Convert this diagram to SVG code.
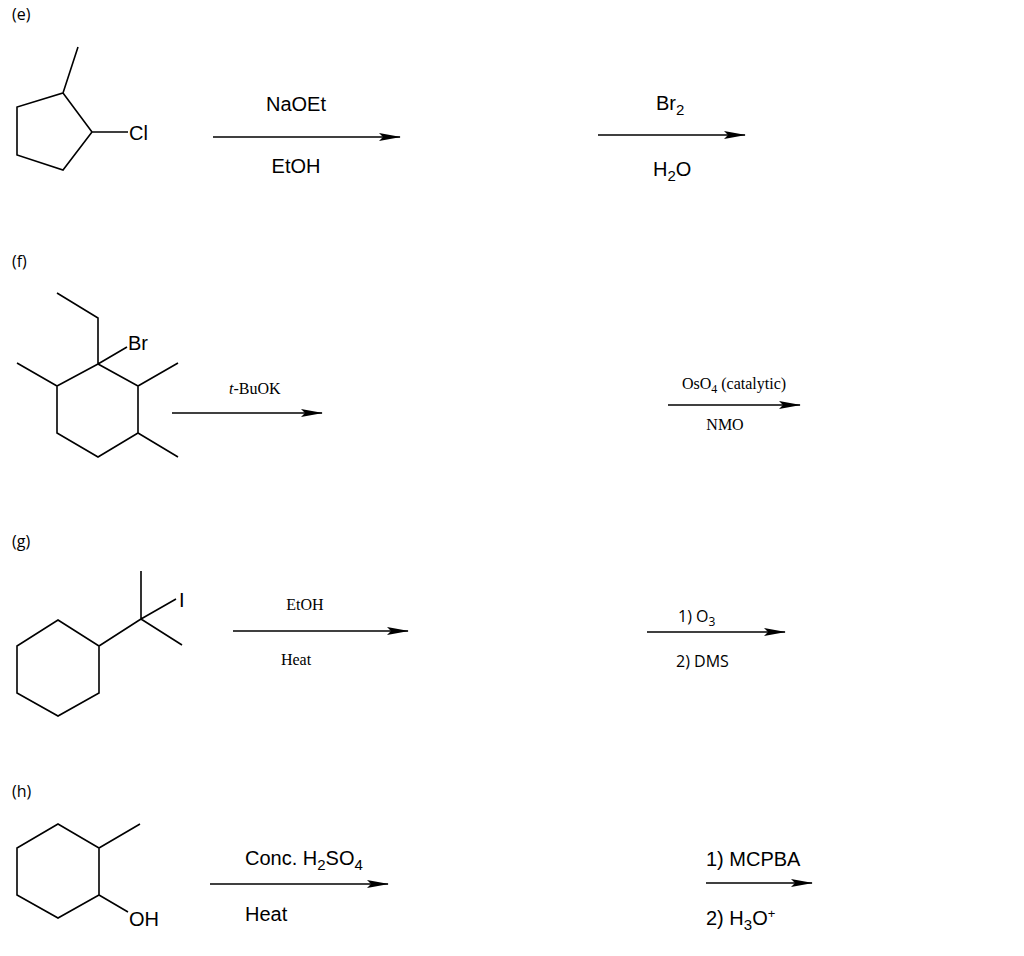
<svg xmlns="http://www.w3.org/2000/svg" width="1024" height="956" viewBox="0 0 1024 956">
<style>
.b{stroke:#000;stroke-width:1.6;fill:none;stroke-linejoin:miter}
.a{stroke:#000;stroke-width:1.6}
.t{font-family:"Liberation Sans",Arial,sans-serif;font-size:20px;fill:#000}
.s{font-family:"Liberation Serif","Times New Roman",serif;font-size:16px;fill:#000}
.l{font-family:"Open Sans",sans-serif;font-size:16px;fill:#000}
</style>
<defs><marker id="h" markerWidth="22" markerHeight="8" refX="21" refY="4" orient="auto" markerUnits="userSpaceOnUse"><path d="M0,0 L22,4 L0,8 L4,4Z" fill="#000"/></marker></defs>
<rect width="1024" height="956" fill="#fff"/>
<text class="l" x="12" y="20">(e)</text>
<text class="l" x="12" y="267">(f)</text>
<text class="l" x="12" y="547">(g)</text>
<text class="l" x="12" y="797">(h)</text>
<g id="mol-e"><path class="b" d="M63,93 L92,132 L63,170 L17,155 L17,107 Z M63,93 L78,47 M92,132 L128,132"/><text class="t" x="129" y="140">Cl</text></g>
<g id="mol-f"><path class="b" d="M98,364 L57,386 L57,433 L98,457 L138,433 L138,386 Z M57,293 L98,318 L98,364 M98,364 L127,347 M57,386 L17,363 M138,386 L178,363 M138,433 L178,457"/><text class="t" x="128" y="350">Br</text></g>
<g id="mol-g"><path class="b" d="M58,620 L99,646 L99,693 L58,716 L17,693 L17,646 Z M99,646 L141,619 L141,571 M141,619 L176,599 M141,619 L182,645"/><text class="t" x="179" y="607">I</text></g>
<g id="mol-h"><path class="b" d="M58,824 L99,848 L99,895 L58,918 L17,895 L17,848 Z M99,848 L140,824 M99,895 L128,912"/><text class="t" x="129" y="926">OH</text></g>
<g id="connectors">
<line class="a" x1="213" y1="137" x2="400" y2="137" marker-end="url(#h)"/>
<line class="a" x1="598" y1="135" x2="745" y2="135" marker-end="url(#h)"/>
<line class="a" x1="172" y1="413" x2="322" y2="413" marker-end="url(#h)"/>
<line class="a" x1="668" y1="405" x2="800" y2="405" marker-end="url(#h)"/>
<line class="a" x1="233" y1="631" x2="408" y2="631" marker-end="url(#h)"/>
<line class="a" x1="647" y1="632" x2="785" y2="632" marker-end="url(#h)"/>
<line class="a" x1="210" y1="884" x2="388" y2="884" marker-end="url(#h)"/>
<line class="a" x1="706" y1="883" x2="812" y2="883" marker-end="url(#h)"/>
</g>
<g id="labels">
<text class="t" x="296" y="111" text-anchor="middle">NaOEt</text>
<text class="t" x="296" y="173" text-anchor="middle">EtOH</text>
<text class="t" x="656" y="110">Br<tspan font-size="15" dy="5">2</tspan></text>
<text class="t" x="653" y="176">H<tspan font-size="15" dy="5">2</tspan><tspan dy="-5">O</tspan></text>
<text class="s" x="229" y="394"><tspan font-style="italic">t</tspan>-BuOK</text>
<text class="s" x="734" y="389" text-anchor="middle">OsO<tspan font-size="12" dy="4">4</tspan><tspan dy="-4"> (catalytic)</tspan></text>
<text class="s" x="725" y="430" text-anchor="middle">NMO</text>
<text class="s" x="305" y="610" text-anchor="middle">EtOH</text>
<text class="s" x="296" y="665" text-anchor="middle">Heat</text>
<text class="l" x="678" y="622" font-family="Liberation Sans">1) O<tspan font-size="12" dy="4">3</tspan></text>
<text class="l" x="676" y="667" font-family="Liberation Sans">2) DMS</text>
<text class="t" x="245" y="865">Conc. H<tspan font-size="15" dy="5">2</tspan><tspan dy="-5">SO</tspan><tspan font-size="15" dy="5">4</tspan></text>
<text class="t" x="245" y="921">Heat</text>
<text class="t" x="706" y="866">1) MCPBA</text>
<text class="t" x="706" y="925">2) H<tspan font-size="15" dy="5">3</tspan><tspan dy="-5">O</tspan><tspan font-size="13" dy="-7">+</tspan></text>
</g>
</svg>
